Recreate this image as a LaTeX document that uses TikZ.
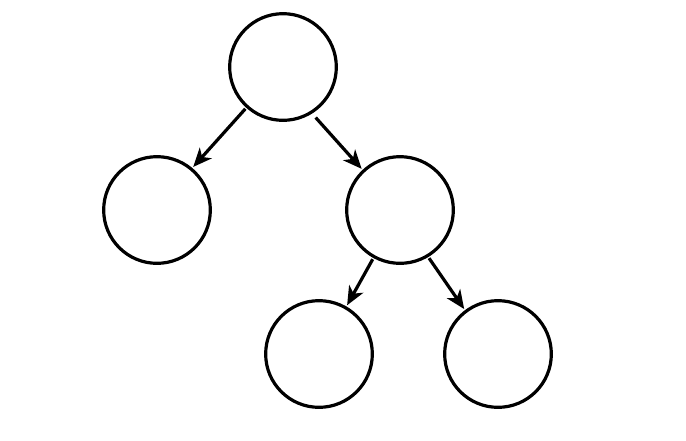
\documentclass[tikz,border=0pt]{standalone}
\usetikzlibrary{arrows.meta}
\begin{document}
\begin{tikzpicture}[x=0.75pt,y=-0.75pt,
  tnode/.style={circle,draw,line width=2.4pt,minimum size=80pt,inner sep=0pt},
  tedge/.style={line width=2.4pt,-{Stealth[length=14pt,width=12pt,inset=4pt]},shorten <=1pt,shorten >=1pt}]
\useasboundingbox (0,0) rectangle (686,440);
\node[tnode] (r) at (283,67) {};
\node[tnode] (a) at (157,210) {};
\node[tnode] (b) at (400,210) {};
\node[tnode] (c) at (319,354) {};
\node[tnode] (d) at (498,354) {};
\draw[tedge] (r.228) -- (a.50);
\draw[tedge,shorten <=4pt] (r.302) -- (b.133);
\draw[tedge] (b.241) -- (c.60);
\draw[tedge] (b.301) -- (d.127);
\end{tikzpicture}
\end{document}
